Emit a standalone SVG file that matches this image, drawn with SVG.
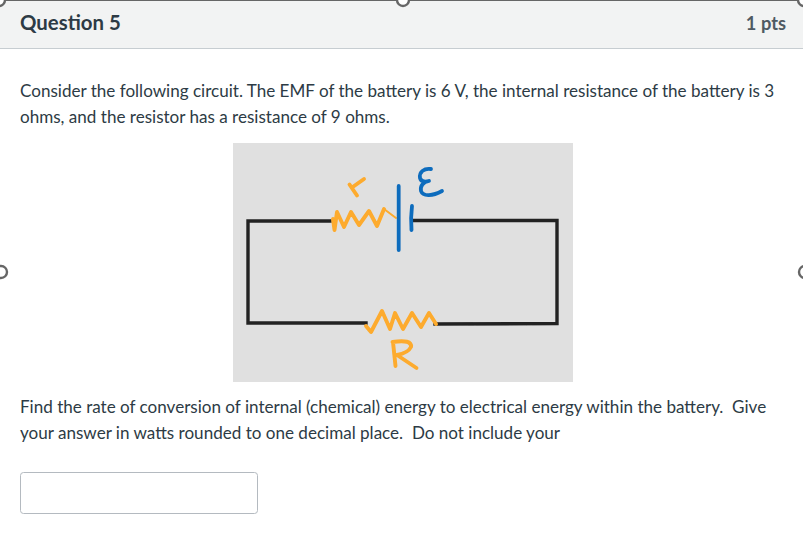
<svg xmlns="http://www.w3.org/2000/svg" width="803" height="538" viewBox="0 0 803 538">
<style>
text{font-family:Lato,"Liberation Sans",sans-serif;fill:#2d3b45;white-space:pre}
.b{font-size:17.07px}
.w{fill:none;stroke:#222;stroke-width:3.4;stroke-linecap:square;stroke-linejoin:miter}
.o{fill:none;stroke:#fdab2e;stroke-width:3.9;stroke-linecap:round;stroke-linejoin:round}
.t{fill:none;stroke:#fdab2e;stroke-width:2;stroke-linecap:round}
.u{fill:none;stroke:#0f6cbd;stroke-width:3.8;stroke-linecap:round;stroke-linejoin:round}
.h{fill:#fff;stroke:#666;stroke-width:2.4}
</style>
<defs><filter id="soft" x="-5%" y="-5%" width="110%" height="110%"><feGaussianBlur stdDeviation="0.4"/></filter></defs>
<rect width="803" height="538" fill="#fff"/>
<g id="header">
<rect x="0" y="0" width="803" height="48" fill="#f2f3f3"/>
<rect x="0" y="48" width="803" height="1" fill="#c7cdd1"/>
<rect x="0" y="0" width="803" height="1" fill="#666"/>
<text x="20" y="30" font-size="20.4" font-weight="700">Question 5</text>
<text x="786" y="30" font-size="18.3" font-weight="700" text-anchor="end" style="fill:#4f5a63">1 pts</text>
</g>
<g id="handles">
<circle class="h" cx="403" cy="0" r="6"/>
<circle class="h" cx="-1" cy="0" r="6"/>
<circle class="h" cx="804" cy="0" r="6"/>
<circle class="h" cx="1" cy="272" r="6"/>
<circle class="h" cx="805" cy="272" r="6"/>
</g>
<g id="question">
<text class="b" x="20" y="97">Consider the following circuit. The EMF of the battery is 6 V, the internal resistance of the battery is 3</text>
<text class="b" x="20" y="123">ohms, and the resistor has a resistance of 9 ohms.</text>
</g>
<g id="circuit">
<rect x="233" y="143" width="340" height="239" fill="#e0e0e0"/>
<g filter="url(#soft)">
<g id="connectors">
<path class="w" d="M330 221H248V323H366"/>
<path class="w" d="M414 220.500H557V323.500L435 324"/>
</g>
<g id="resistor-r">
<path class="o" d="M333 219L334.500 230L337 212L344 227L351 212L359 225L369 211L377 226L384 209"/>
<path class="t" d="M384 209L396 218"/>
<path class="o" d="M349.500 184.500L357 195.500M352 187.500L364 179"/>
</g>
<g id="battery">
<path class="u" d="M398.700 186V250"/>
<path class="u" d="M412 206Q410.500 218 411.500 230"/>
<path class="u" d="M431 169C424 168 419 172 420 178C421 182 425 182 429 181C423 182 420 186 421 191C423 197 433 196 442 191"/>
</g>
<g id="resistor-R">
<path class="o" d="M366 326L371 332L382 311L390 329L395 313L403 329L412 313L421 327L429 313L436 324"/>
<path class="o" d="M393 342L395.500 366M392.500 342Q412 339 411 347Q408 353 397 355L416.500 368"/>
</g>
</g>
</g>
<g id="instructions">
<text class="b" x="20" y="413">Find the rate of conversion of internal (chemical) energy to electrical energy within the battery.  Give</text>
<text class="b" x="20" y="439">your answer in watts rounded to one decimal place.  Do not include your</text>
</g>
<g id="answer">
<rect x="20.500" y="472.500" width="237" height="41" rx="3" fill="#fff" stroke="#b4bac0"/>
</g>
</svg>
